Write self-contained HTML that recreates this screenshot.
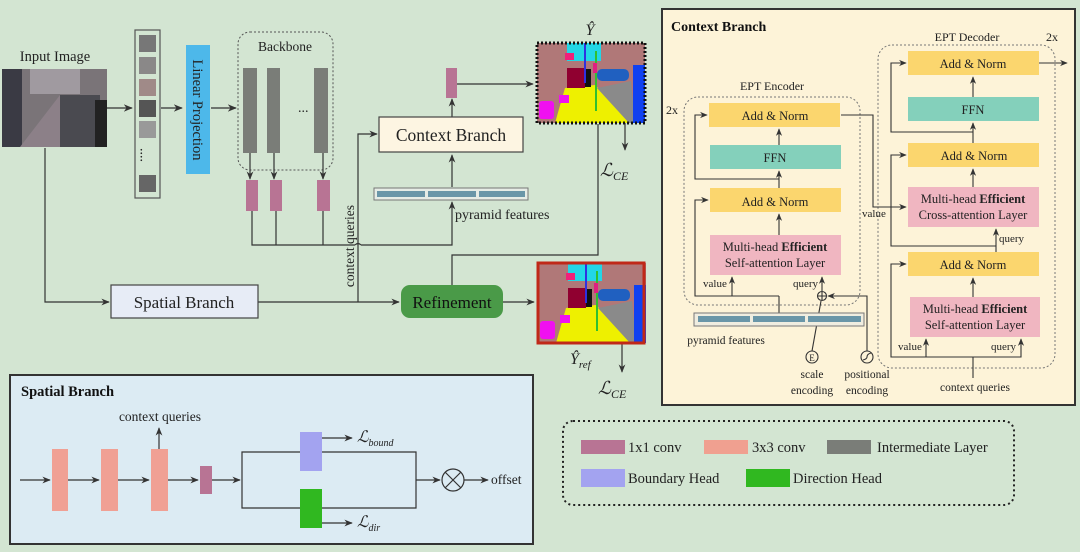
<!DOCTYPE html>
<html><head><meta charset="utf-8"><style>
html,body{margin:0;padding:0;background:#d3e5d2;}
svg{display:block;font-family:"Liberation Serif",serif;}
</style></head><body>
<svg width="1080" height="552" viewBox="0 0 1080 552" xmlns="http://www.w3.org/2000/svg">
<defs>
<marker id="a" viewBox="0 0 10 10" refX="9" refY="5" markerWidth="7" markerHeight="7" orient="auto-start-reverse"><path d="M0,1 L10,5 L0,9 L3,5 z" fill="#333"/></marker>
<g id="seg">
<rect x="0" y="0" width="108" height="80" fill="#b07878"/>
<rect x="30" y="0" width="34" height="18" fill="#22d6e6"/>
<polygon points="18,80 28,45 58,42 98,80" fill="#eef000"/>
<polygon points="60,45 94,38 98,80 92,80" fill="#8a8a8a"/>
<rect x="96" y="22" width="12" height="58" fill="#1040f0"/>
<rect x="60" y="26" width="32" height="12" rx="5" fill="#2060c0"/>
<rect x="2" y="58" width="15" height="18" rx="3" fill="#f010f0"/>
<rect x="22" y="52" width="10" height="8" fill="#f010f0"/>
<rect x="28" y="10" width="9" height="7" fill="#f0207a"/>
<rect x="30" y="25" width="18" height="20" fill="#900030"/>
<rect x="48" y="26" width="6" height="18" fill="#111"/>
<rect x="47" y="0" width="2" height="40" fill="#3030e0"/>
<rect x="58" y="8" width="2" height="60" fill="#30c030"/>
<rect x="56" y="20" width="4" height="10" fill="#e02080"/>
</g>
</defs>
<rect x="0" y="0" width="1080" height="552" fill="#d3e5d2"/>

<!-- input image -->
<text x="55" y="61" font-size="14.5" text-anchor="middle" fill="#222">Input Image</text>
<rect x="2" y="69" width="105" height="78" fill="#7a7478"/>
<rect x="2" y="69" width="20" height="78" fill="#3a3a44"/>
<rect x="30" y="69" width="50" height="25" fill="#a09aa0"/>
<polygon points="20,147 60,95 80,147" fill="#8c8088"/>
<rect x="60" y="95" width="40" height="52" fill="#4a4a50"/>
<rect x="95" y="100" width="12" height="47" fill="#222"/>
<line x1="107" y1="108" x2="132" y2="108" stroke="#333" stroke-width="1.3" marker-end="url(#a)"/>

<!-- strip -->
<rect x="135" y="30" width="25" height="168" fill="none" stroke="#555" stroke-width="1.2"/>
<g fill="#777">
<rect x="139" y="35" width="17" height="17"/><rect x="139" y="57" width="17" height="17" fill="#8a8888"/>
<rect x="139" y="79" width="17" height="17" fill="#a08a88"/><rect x="139" y="100" width="17" height="17" fill="#555"/>
<rect x="139" y="121" width="17" height="17" fill="#999"/><rect x="139" y="175" width="17" height="17" fill="#666"/>
</g>
<text x="147.5" y="162" font-size="14" text-anchor="middle" fill="#222" transform="rotate(90 147.5 155)">....</text>
<line x1="161" y1="108" x2="182" y2="108" stroke="#333" stroke-width="1.3" marker-end="url(#a)"/>

<rect x="186" y="45" width="24" height="129" fill="#4db8ea"/>
<text x="198" y="110" font-size="14.5" text-anchor="middle" fill="#222" transform="rotate(90 198 110)" dy="5">Linear Projection</text>
<line x1="211" y1="108" x2="236" y2="108" stroke="#333" stroke-width="1.3" marker-end="url(#a)"/>

<!-- backbone -->
<rect x="238" y="32" width="95" height="138" rx="12" fill="none" stroke="#555" stroke-dasharray="2,2"/>
<text x="285" y="51" font-size="13.5" text-anchor="middle" fill="#222">Backbone</text>
<g fill="#7a7d78"><rect x="243" y="68" width="14" height="85"/><rect x="267" y="68" width="13" height="85"/><rect x="314" y="68" width="14" height="85"/></g>
<text x="298" y="112" font-size="14" fill="#222">...</text>
<g stroke="#333" stroke-width="1.2" fill="none">
<line x1="250" y1="153" x2="250" y2="179" marker-end="url(#a)"/>
<line x1="274" y1="153" x2="274" y2="179" marker-end="url(#a)"/>
<line x1="323" y1="153" x2="323" y2="179" marker-end="url(#a)"/>
</g>
<g fill="#b87494"><rect x="246" y="180" width="12" height="31"/><rect x="270" y="180" width="12" height="31"/><rect x="317" y="180" width="13" height="31"/></g>
<g stroke="#333" stroke-width="1.2" fill="none">
<path d="M252,211 V245 H355 M361,245 H452 V202" marker-end="url(#a)"/>
<path d="M355,245 q3,-3 6,0"/>
<line x1="276" y1="211" x2="276" y2="245"/>
<line x1="323" y1="211" x2="323" y2="245"/>
<path d="M358,302 V134 H377" marker-end="url(#a)"/>
<line x1="452" y1="187" x2="452" y2="155" marker-end="url(#a)"/>
<line x1="452" y1="117" x2="452" y2="99" marker-end="url(#a)"/>
<line x1="457" y1="84" x2="533" y2="84" marker-end="url(#a)"/>
<line x1="625" y1="123" x2="625" y2="150" marker-end="url(#a)"/>
<path d="M598,124 V255 H452 V285"/>
<path d="M45,148 V302 H109" marker-end="url(#a)"/>
<line x1="258" y1="302" x2="399" y2="302" marker-end="url(#a)"/>
<line x1="503" y1="302" x2="534" y2="302" marker-end="url(#a)"/>
<line x1="622" y1="344" x2="622" y2="372" marker-end="url(#a)"/>
</g>
<text x="350" y="246" font-size="13.5" text-anchor="middle" fill="#222" transform="rotate(-90 350 246)" dy="4">context queries</text>

<rect x="374" y="188" width="154" height="12" fill="#e6ece6" stroke="#777"/>
<g fill="#6a96a8"><rect x="377" y="191" width="48" height="6"/><rect x="428" y="191" width="48" height="6"/><rect x="479" y="191" width="46" height="6"/></g>
<text x="455" y="219" font-size="14" fill="#222">pyramid features</text>

<rect x="379" y="117" width="144" height="35" fill="#fdf5e2" stroke="#444" stroke-width="1.2"/>
<text x="451" y="141" font-size="17.5" text-anchor="middle" fill="#222">Context Branch</text>
<rect x="446" y="68" width="11" height="30" fill="#b87494"/>

<use href="#seg" x="537" y="43"/>
<rect x="537" y="43" width="108" height="80" fill="none" stroke="#111" stroke-width="3" stroke-dasharray="2,2"/>
<text x="590" y="35" font-size="16" text-anchor="middle" font-style="italic" fill="#222">Ŷ</text>
<text x="600" y="176" font-size="18" font-style="italic" fill="#222">ℒ<tspan font-size="12" dy="4">CE</tspan></text>

<rect x="111" y="285" width="147" height="33" fill="#e7ecf6" stroke="#444" stroke-width="1.2"/>
<text x="184" y="308" font-size="17" text-anchor="middle" fill="#222">Spatial Branch</text>
<rect x="401" y="285" width="102" height="33" rx="9" fill="#4a9a48"/>
<text x="452" y="308" font-size="17" text-anchor="middle" fill="#111">Refinement</text>

<use href="#seg" x="538" y="263"/>
<rect x="538" y="263" width="106" height="80" fill="none" stroke="#c02818" stroke-width="3"/>
<text x="570" y="364" font-size="16" font-style="italic" fill="#222">Ŷ<tspan font-size="11" dy="4">ref</tspan></text>
<text x="598" y="394" font-size="18" font-style="italic" fill="#222">ℒ<tspan font-size="12" dy="4">CE</tspan></text>

<!-- Context branch panel -->
<rect x="662" y="9" width="413" height="396" fill="#fdf3d8" stroke="#333" stroke-width="2"/>
<text x="671" y="31" font-size="14" font-weight="bold" fill="#111">Context Branch</text>
<text x="967" y="41" font-size="12" text-anchor="middle" fill="#222">EPT Decoder</text>
<text x="1046" y="41" font-size="12" fill="#222">2x</text>
<rect x="878" y="45" width="177" height="323" rx="14" fill="none" stroke="#777" stroke-dasharray="2,2"/>
<text x="772" y="90" font-size="12" text-anchor="middle" fill="#222">EPT Encoder</text>
<text x="666" y="114" font-size="12" fill="#222">2x</text>
<rect x="684" y="97" width="176" height="208" rx="14" fill="none" stroke="#777" stroke-dasharray="2,2"/>

<g font-size="12.5" text-anchor="middle" fill="#222">
<rect x="709" y="103" width="131" height="24" fill="#fbd66e"/><text x="775" y="120">Add &amp; Norm</text>
<rect x="710" y="145" width="131" height="24" fill="#84d0bb"/><text x="775" y="162">FFN</text>
<rect x="710" y="188" width="131" height="24" fill="#fbd66e"/><text x="775" y="206">Add &amp; Norm</text>
<rect x="710" y="235" width="131" height="40" fill="#f0b6c1"/><text x="775" y="251">Multi-head <tspan font-weight="bold">Efficient</tspan></text><text x="775" y="267">Self-attention Layer</text>
<rect x="908" y="51" width="131" height="24" fill="#fbd66e"/><text x="973" y="68">Add &amp; Norm</text>
<rect x="908" y="97" width="131" height="24" fill="#84d0bb"/><text x="973" y="114">FFN</text>
<rect x="908" y="143" width="131" height="24" fill="#fbd66e"/><text x="974" y="160">Add &amp; Norm</text>
<rect x="908" y="187" width="131" height="40" fill="#f0b6c1"/><text x="973" y="203">Multi-head <tspan font-weight="bold">Efficient</tspan></text><text x="973" y="219">Cross-attention Layer</text>
<rect x="908" y="252" width="131" height="24" fill="#fbd66e"/><text x="973" y="269">Add &amp; Norm</text>
<rect x="910" y="297" width="130" height="40" fill="#f0b6c1"/><text x="975" y="313">Multi-head <tspan font-weight="bold">Efficient</tspan></text><text x="975" y="329">Self-attention Layer</text>
</g>
<g font-size="11" fill="#222">
<text x="703" y="287">value</text><text x="793" y="287">query</text>
<text x="862" y="217">value</text><text x="999" y="242">query</text>
<text x="898" y="350">value</text><text x="991" y="350">query</text>
</g>
<g stroke="#333" stroke-width="1.1" fill="none">
<line x1="779" y1="188" x2="779" y2="171" marker-end="url(#a)"/>
<line x1="779" y1="145" x2="779" y2="129" marker-end="url(#a)"/>
<line x1="779" y1="235" x2="779" y2="214" marker-end="url(#a)"/>
<path d="M779,179 H695 V115 H707" marker-end="url(#a)"/>
<path d="M779,296 H695 V200 H708" marker-end="url(#a)"/>
<line x1="732" y1="296" x2="732" y2="277" marker-end="url(#a)"/>
<line x1="822" y1="291" x2="822" y2="277" marker-end="url(#a)"/>
<circle cx="822" cy="296" r="4.5"/><path d="M818,296 H826 M822,292 V300"/>
<line x1="779" y1="313" x2="779" y2="296"/>
<line x1="812" y1="351" x2="821" y2="301"/>
<path d="M867,351 V296 H828" marker-end="url(#a)"/>
<path d="M841,115 H873 V207 H906" marker-end="url(#a)"/>
<line x1="973" y1="97" x2="973" y2="77" marker-end="url(#a)"/>
<line x1="973" y1="143" x2="973" y2="123" marker-end="url(#a)"/>
<line x1="973" y1="187" x2="973" y2="169" marker-end="url(#a)"/>
<line x1="973" y1="297" x2="973" y2="278" marker-end="url(#a)"/>
<path d="M973,132 H891 V63 H906" marker-end="url(#a)"/>
<path d="M996,246 H891 V155 H906" marker-end="url(#a)"/>
<line x1="996" y1="252" x2="996" y2="229" marker-end="url(#a)"/>
<path d="M996,357 H891 V264 H906" marker-end="url(#a)"/>
<line x1="926" y1="357" x2="926" y2="339" marker-end="url(#a)"/>
<path d="M973,357 H1021 V339" marker-end="url(#a)"/>
<line x1="973" y1="378" x2="973" y2="357"/>
<line x1="1039" y1="63" x2="1067" y2="63" marker-end="url(#a)"/>
<circle cx="812" cy="357" r="6"/><circle cx="867" cy="357" r="6"/>
<path d="M863,360 q4,-1 4,-3 q0,-3 4,-4"/>
</g>
<text x="812" y="361" font-size="9" text-anchor="middle" fill="#222">E</text>
<rect x="694" y="313" width="170" height="13" fill="#f0ede0" stroke="#777"/>
<g fill="#6a96a8"><rect x="698" y="316" width="52" height="6"/><rect x="753" y="316" width="52" height="6"/><rect x="808" y="316" width="53" height="6"/></g>
<g font-size="11.5" fill="#222" text-anchor="middle">
<text x="726" y="344">pyramid features</text>
<text x="812" y="378">scale</text><text x="812" y="394">encoding</text>
<text x="867" y="378">positional</text><text x="867" y="394">encoding</text>
<text x="975" y="391">context queries</text>
</g>

<!-- Spatial branch panel -->
<rect x="10" y="375" width="523" height="169" fill="#dcebf3" stroke="#333" stroke-width="2"/>
<text x="21" y="396" font-size="14.5" font-weight="bold" fill="#111">Spatial Branch</text>
<text x="160" y="421" font-size="13.5" text-anchor="middle" fill="#222">context queries</text>
<g fill="#f0a094"><rect x="52" y="449" width="16" height="62"/><rect x="101" y="449" width="17" height="62"/><rect x="151" y="449" width="17" height="62"/></g>
<rect x="200" y="466" width="12" height="28" fill="#b87494"/>
<rect x="300" y="432" width="22" height="39" fill="#a3a3f0"/>
<rect x="300" y="489" width="22" height="39" fill="#30b820"/>
<g stroke="#333" stroke-width="1.2" fill="none">
<line x1="20" y1="480" x2="50" y2="480" marker-end="url(#a)"/>
<line x1="68" y1="480" x2="99" y2="480" marker-end="url(#a)"/>
<line x1="118" y1="480" x2="149" y2="480" marker-end="url(#a)"/>
<line x1="168" y1="480" x2="198" y2="480" marker-end="url(#a)"/>
<line x1="212" y1="480" x2="240" y2="480" marker-end="url(#a)"/>
<line x1="159" y1="449" x2="159" y2="428" marker-end="url(#a)"/>
<path d="M300,452 H242 V508 H300 M322,508 H416 V452 H322"/>
<line x1="416" y1="480" x2="440" y2="480" marker-end="url(#a)"/>
<line x1="322" y1="438" x2="352" y2="438" marker-end="url(#a)"/>
<line x1="322" y1="523" x2="352" y2="523" marker-end="url(#a)"/>
<circle cx="453" cy="480" r="11"/>
<path d="M445,472 L461,488 M461,472 L445,488"/>
<line x1="464" y1="480" x2="488" y2="480" marker-end="url(#a)"/>
</g>
<text x="491" y="484" font-size="13.5" fill="#222">offset</text>
<text x="357" y="442" font-size="16" font-style="italic" fill="#222">ℒ<tspan font-size="10" dy="4">bound</tspan></text>
<text x="357" y="527" font-size="16" font-style="italic" fill="#222">ℒ<tspan font-size="10" dy="4">dir</tspan></text>

<!-- legend -->
<rect x="563" y="421" width="451" height="84" rx="10" fill="none" stroke="#222" stroke-width="2" stroke-dasharray="2,3"/>
<rect x="581" y="440" width="44" height="14" fill="#b87494"/>
<rect x="704" y="440" width="44" height="14" fill="#f0a090"/>
<rect x="827" y="440" width="44" height="14" fill="#7a7d78"/>
<rect x="581" y="469" width="44" height="18" fill="#a3a3f0"/>
<rect x="746" y="469" width="44" height="18" fill="#30b820"/>
<g font-size="14.5" fill="#222">
<text x="628" y="452">1x1 conv</text><text x="752" y="452">3x3 conv</text><text x="877" y="452">Intermediate Layer</text>
<text x="628" y="483">Boundary Head</text><text x="793" y="483">Direction Head</text>
</g>
</svg>
</body></html>
